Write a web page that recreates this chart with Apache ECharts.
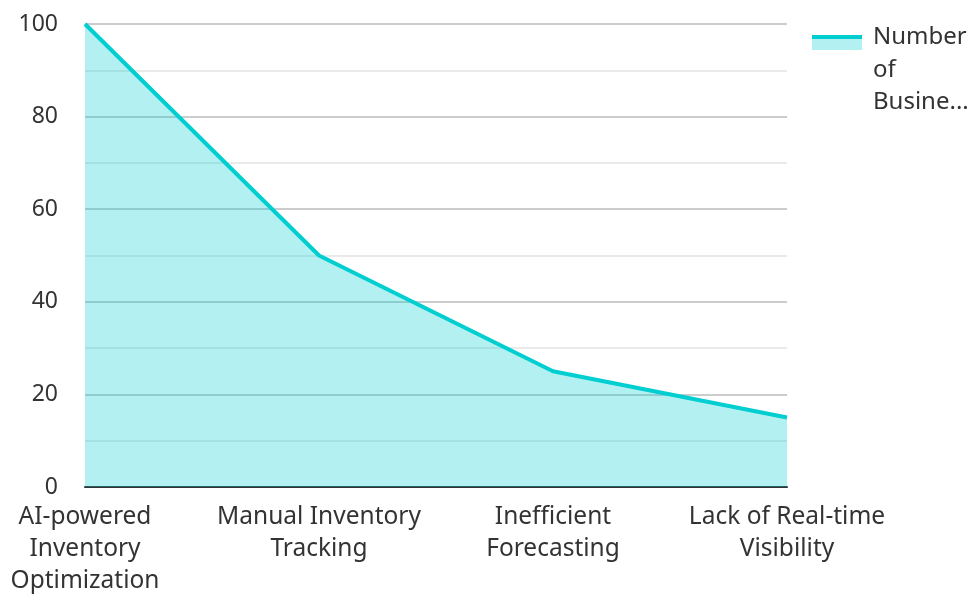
<!DOCTYPE html>
<html>
<head>
<meta charset="utf-8">
<script src="https://cdn.jsdelivr.net/npm/echarts@6/dist/echarts.min.js"></script>
<style>
  html, body { margin: 0; padding: 0; background: #fff; }
  #chart { width: 973px; height: 597px; }
</style>
</head>
<body>
<div id="chart"></div>
<script>
// Challenges in inventory management, by number of businesses
const categories = [
  'AI-powered\nInventory\nOptimization',
  'Manual Inventory\nTracking',
  'Inefficient\nForecasting',
  'Lack of Real-time\nVisibility'
];
const seriesName = 'Number of Businesses';
const legendLabel = 'Number\nof\nBusine...';
const businessCounts = [100, 50, 25, 15];
const yTicks = { min: 0, max: 100, interval: 20 };

const FONT = '"Noto Sans", sans-serif';
const LINE = '#00CED1';
const AREA = '#b3f0f1';

// Legend swatch: a thick line on top of a pale area block, placed in the
// upper part of a tall item so it sits beside the first text line.
const legendSwatch = new echarts.graphic.LinearGradient(0, 0, 0, 1, [
  { offset: 0, color: 'rgba(255,255,255,0)' },
  { offset: 13 / 96, color: 'rgba(255,255,255,0)' },
  { offset: 13 / 96, color: LINE },
  { offset: 17 / 96, color: LINE },
  { offset: 17 / 96, color: AREA },
  { offset: 28 / 96, color: AREA },
  { offset: 28 / 96, color: 'rgba(255,255,255,0)' },
  { offset: 1, color: 'rgba(255,255,255,0)' }
]);

const chart = echarts.init(document.getElementById('chart'), null, { renderer: 'canvas' });

chart.setOption({
  animation: false,
  textStyle: { fontFamily: FONT },
  grid: { left: 85, right: 186, top: 24, bottom: 105, containLabel: false },
  legend: {
    left: 812,
    top: 21,
    padding: 0,
    orient: 'vertical',
    icon: 'rect',
    itemWidth: 50,
    itemHeight: 96,
    itemStyle: { color: legendSwatch, borderWidth: 0 },
    textStyle: { fontFamily: FONT, fontSize: 24, color: '#333', lineHeight: 32.5, padding: [0, 0, 0, 6] },
    formatter: function () { return legendLabel; },
    data: [seriesName]
  },
  xAxis: {
    type: 'category',
    boundaryGap: false,
    data: categories,
    axisLine: { show: true, lineStyle: { color: '#333', width: 2 } },
    axisTick: { show: false },
    axisLabel: {
      fontFamily: FONT, fontSize: 24.5, color: '#333', lineHeight: 32,
      margin: 14, interval: 0
    },
    splitLine: { show: false }
  },
  yAxis: {
    type: 'value',
    min: yTicks.min,
    max: yTicks.max,
    interval: yTicks.interval,
    axisLine: { show: false },
    axisTick: { show: false },
    axisLabel: { fontFamily: FONT, fontSize: 23, color: '#333', margin: 27 },
    splitLine: { show: true, lineStyle: { color: '#cccccc', width: 2 } },
    minorTick: { show: false, splitNumber: 2 },
    minorSplitLine: { show: true, lineStyle: { color: '#e3e3e3', width: 1.5 } }
  },
  series: [{
    name: seriesName,
    type: 'line',
    data: businessCounts,
    symbol: 'none',
    lineStyle: { color: LINE, width: 4 },
    itemStyle: { color: LINE },
    areaStyle: { color: LINE, opacity: 0.3 }
  }]
});
</script>
</body>
</html>
